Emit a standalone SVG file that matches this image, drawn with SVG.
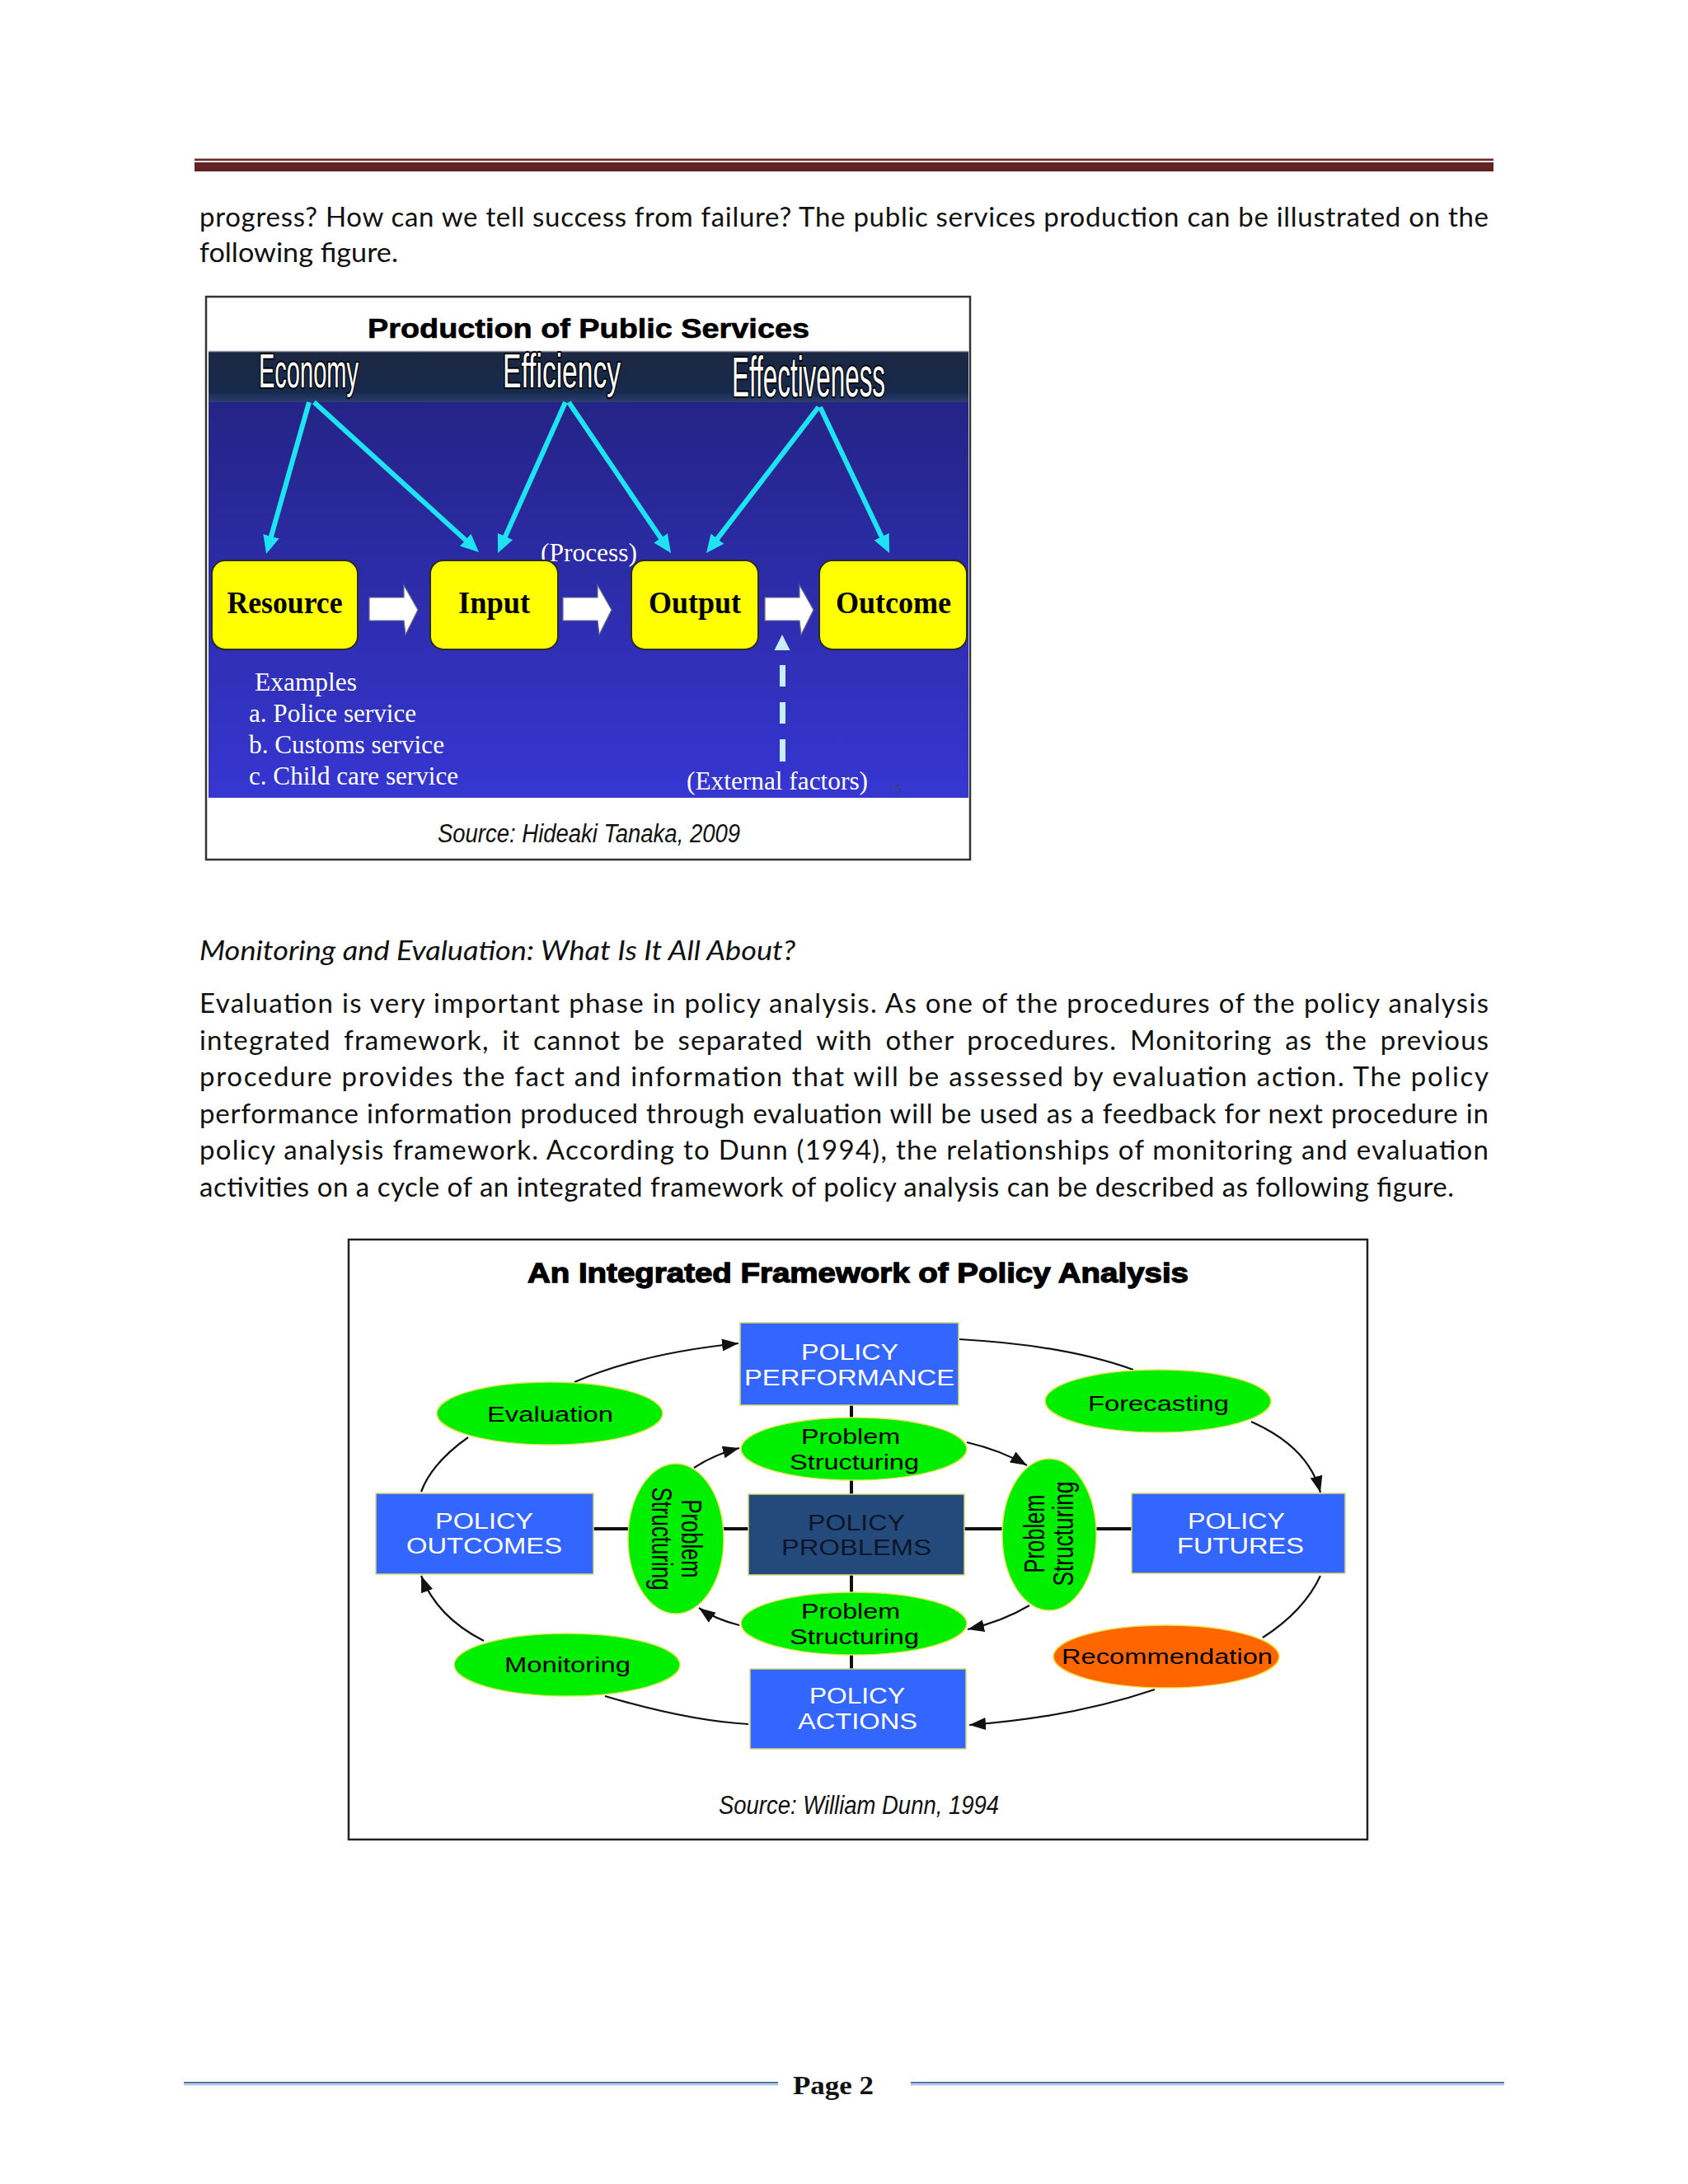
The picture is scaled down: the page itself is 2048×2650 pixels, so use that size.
<svg xmlns="http://www.w3.org/2000/svg" width="2048" height="2650" viewBox="0 0 2048 2650">
<defs>
<style>
.body{font-family:Lato,'Open Sans','Liberation Sans',sans-serif;font-size:33px;fill:#111}
.it{font-style:italic}
.sw{font-family:'Liberation Serif','Times New Roman',serif;font-size:32px;fill:#fff}
.ybox{fill:#ffff00;stroke:#2a2a2a;stroke-width:2}
.ylbl{font-family:'Liberation Serif','Times New Roman',serif;font-weight:bold;font-size:37px;fill:#000;text-anchor:middle}
.band{font-family:'Liberation Sans',Arial,sans-serif;fill:#fff;stroke:#000;stroke-width:4;paint-order:stroke;stroke-linejoin:round}
.cy{stroke:#1fe3f2;stroke-width:6;fill:none;marker-end:url(#cyh)}
.blk{fill:#fff;stroke:#6a6a8a;stroke-width:1.2}
.src{font-family:'Liberation Sans',Arial,sans-serif;font-style:italic;font-size:31px;fill:#111}
.f2b{fill:#3366ff;stroke:#d8dc70;stroke-width:1.5}
.f2d{fill:#244a7c;stroke:#d8dc70;stroke-width:1.5}
.gr{fill:#00ee00;stroke:#e4e45a;stroke-width:1.5}
.or{fill:#ff6600;stroke:#f2e04a;stroke-width:1.5}
.t2{font-family:'Liberation Sans',Arial,sans-serif;font-size:26px;text-anchor:middle;fill:#000}
.tb{font-size:27px}
.wt{fill:#fff}
.dk{fill:#0c1628}
.cv{fill:none;stroke:#111;stroke-width:2.2}
.ar{marker-end:url(#bh)}
.ln{stroke:#111;stroke-width:4}
</style>
<marker id="cyh" markerUnits="userSpaceOnUse" markerWidth="24" markerHeight="22" refX="14" refY="10" orient="auto">
<path d="M0,0 L22,10 L0,20 z" fill="#1fe3f2"/>
</marker>
<marker id="bh" markerUnits="userSpaceOnUse" markerWidth="22" markerHeight="16" refX="20" refY="7.5" orient="auto">
<path d="M0,0 L20,7.5 L0,15 z" fill="#111"/>
</marker>
<linearGradient id="bandg" x1="0" y1="0" x2="0" y2="1">
<stop offset="0" stop-color="#1c2742"/>
<stop offset="0.8" stop-color="#162a4c"/>
<stop offset="1" stop-color="#2c3f72"/>
</linearGradient>
<linearGradient id="panelg" x1="0" y1="0" x2="0" y2="1">
<stop offset="0" stop-color="#22217c"/>
<stop offset="1" stop-color="#3636d2"/>
</linearGradient>
</defs>

<rect x="0" y="0" width="2048" height="2650" fill="#ffffff"/>

<!-- header rule -->
<g id="header">
<rect x="236" y="192.5" width="1576" height="2.5" fill="#6a2a26"/>
<rect x="236" y="197" width="1576" height="11" fill="#622423"/>
</g>

<!-- paragraph 1 -->
<g id="para1" class="body">
<text x="242" y="275" textLength="1564" lengthAdjust="spacing">progress? How can we tell success from failure? The public services production can be illustrated on the</text>
<text x="242" y="318" textLength="241" lengthAdjust="spacingAndGlyphs">following figure.</text>
</g>

<!-- Figure 1 -->
<g id="figure1">
<rect x="250" y="360" width="927" height="683" fill="#fff" stroke="#333" stroke-width="2.5"/>
<text x="446" y="410" textLength="536" lengthAdjust="spacingAndGlyphs" font-family="'Liberation Sans',Arial,sans-serif" font-weight="bold" font-size="34" fill="#000" stroke="#000" stroke-width="0.7">Production of Public Services</text>
<rect x="253" y="426" width="922" height="542" fill="url(#panelg)"/>
<rect x="253" y="426" width="922" height="62" fill="url(#bandg)"/>
<line x1="253" y1="426.5" x2="1175" y2="426.5" stroke="#8a8fa0" stroke-width="1.5"/>

<g id="economy"><text class="band" x="314" y="470" font-size="57" textLength="121" lengthAdjust="spacingAndGlyphs">Economy</text></g>
<g id="efficiency"><text class="band" x="610" y="470" font-size="57" textLength="143" lengthAdjust="spacingAndGlyphs">Efficiency</text></g>
<g id="effectiveness"><text class="band" x="888" y="481" font-size="68" textLength="186" lengthAdjust="spacingAndGlyphs">Effectiveness</text></g>

<g id="fig1-connectors">
<line class="cy" x1="375" y1="488" x2="325.2" y2="664.3"/>
<line class="cy" x1="381" y1="488" x2="575.1" y2="664.6"/>
<line class="cy" x1="686" y1="488" x2="607.3" y2="663.7"/>
<line class="cy" x1="690" y1="488" x2="809.5" y2="664.4"/>
<line class="cy" x1="993" y1="494" x2="861.9" y2="664.7"/>
<line class="cy" x1="995" y1="494" x2="1075.6" y2="663.8"/>
<polygon class="blk" points="448,725 490,725 490,710 507,740 492,770 490,753 448,753"/>
<polygon class="blk" points="683,725 725,725 725,710 742,740 727,770 725,753 683,753"/>
<polygon class="blk" points="928,725 970,725 970,710 987,740 972,770 970,753 928,753"/>
<polygon points="949,770 939.5,789 958.5,789" fill="#c8eefc"/>
<rect x="946" y="807" width="7" height="26" fill="#c8eefc"/>
<rect x="946" y="852" width="7" height="26" fill="#c8eefc"/>
<rect x="946" y="897" width="7" height="27" fill="#c8eefc"/>
</g>

<text class="sw" x="656" y="681" textLength="117" lengthAdjust="spacingAndGlyphs">(Process)</text>

<g id="resource"><rect class="ybox" x="257" y="680" width="177" height="108" rx="16"/><text class="ylbl" x="345.5" y="744" textLength="140" lengthAdjust="spacingAndGlyphs">Resource</text></g>
<g id="input"><rect class="ybox" x="522" y="680" width="155" height="108" rx="16"/><text class="ylbl" x="599.5" y="744" textLength="87" lengthAdjust="spacingAndGlyphs">Input</text></g>
<g id="output"><rect class="ybox" x="766" y="680" width="154" height="108" rx="16"/><text class="ylbl" x="843" y="744" textLength="112" lengthAdjust="spacingAndGlyphs">Output</text></g>
<g id="outcome"><rect class="ybox" x="994" y="680" width="179" height="108" rx="16"/><text class="ylbl" x="1084" y="744" textLength="140" lengthAdjust="spacingAndGlyphs">Outcome</text></g>

<g id="examples">
<text class="sw" x="309" y="838" textLength="124" lengthAdjust="spacingAndGlyphs">Examples</text>
<text class="sw" x="302" y="876" textLength="203" lengthAdjust="spacingAndGlyphs">a. Police service</text>
<text class="sw" x="302" y="914" textLength="237" lengthAdjust="spacingAndGlyphs">b. Customs service</text>
<text class="sw" x="302" y="952" textLength="254" lengthAdjust="spacingAndGlyphs">c. Child care service</text>
</g>
<g id="external"><text class="sw" x="833" y="958" textLength="220" lengthAdjust="spacingAndGlyphs">(External factors)</text></g>
<text x="1086" y="962" font-family="'Liberation Serif',serif" font-size="15" fill="#3a3a5e">5</text>
<text class="src" x="531" y="1022" textLength="367" lengthAdjust="spacingAndGlyphs">Source: Hideaki Tanaka, 2009</text>
</g>

<!-- heading and paragraph 2 -->
<g id="para2" class="body">
<text class="it" x="242" y="1165" textLength="723" lengthAdjust="spacingAndGlyphs">Monitoring and Evaluation: What Is It All About?</text>
<text x="242" y="1229" textLength="1564" lengthAdjust="spacing">Evaluation is very important phase in policy analysis. As one of the procedures of the policy analysis</text>
<text x="242" y="1274" textLength="1564" lengthAdjust="spacing" word-spacing="6">integrated framework, it cannot be separated with other procedures. Monitoring as the previous</text>
<text x="242" y="1318" textLength="1564" lengthAdjust="spacing">procedure provides the fact and information that will be assessed by evaluation action. The policy</text>
<text x="242" y="1363" textLength="1564" lengthAdjust="spacing">performance information produced through evaluation will be used as a feedback for next procedure in</text>
<text x="242" y="1407" textLength="1564" lengthAdjust="spacing">policy analysis framework. According to Dunn (1994), the relationships of monitoring and evaluation</text>
<text x="242" y="1452" textLength="1522" lengthAdjust="spacing">activities on a cycle of an integrated framework of policy analysis can be described as following figure.</text>
</g>

<!-- Figure 2 -->
<g id="figure2">
<rect x="423" y="1504" width="1236" height="728" fill="#fff" stroke="#222" stroke-width="2.5"/>
<text x="640" y="1556" textLength="802" lengthAdjust="spacingAndGlyphs" font-family="'Liberation Sans',Arial,sans-serif" font-weight="bold" font-size="34" fill="#000" stroke="#000" stroke-width="1.3">An Integrated Framework of Policy Analysis</text>

<g id="fig2-connectors">
<line class="ln" x1="1033" y1="1705" x2="1033" y2="2025"/>
<line class="ln" x1="720" y1="1855" x2="1373" y2="1855"/>
<path class="cv ar" d="M697,1677 Q778,1642 896,1630"/>
<path class="cv" d="M1164,1625 Q1292,1632 1375,1662"/>
<path class="cv ar" d="M1518,1725 Q1588,1756 1602,1811"/>
<path class="cv" d="M1602,1912 Q1582,1955 1532,1987"/>
<path class="cv ar" d="M1401,2050 Q1300,2084 1176,2093"/>
<path class="cv" d="M908,2092 Q835,2088 734,2058"/>
<path class="cv ar" d="M587,1991 Q530,1962 511,1912"/>
<path class="cv" d="M511,1810 Q524,1775 568,1744"/>
<path class="cv ar" d="M842,1781 Q866,1765 897,1757"/>
<path class="cv ar" d="M1173,1750 Q1215,1760 1246,1778"/>
<path class="cv ar" d="M1249,1948 Q1215,1968 1174,1977"/>
<path class="cv ar" d="M897,1972 Q866,1964 848,1951"/>
</g>

<g id="policy-performance"><rect class="f2b" x="898" y="1605" width="265" height="100"/>
<text class="t2 tb wt" x="1031" y="1650" textLength="118" lengthAdjust="spacingAndGlyphs">POLICY</text>
<text class="t2 tb wt" x="1030.5" y="1681" textLength="255" lengthAdjust="spacingAndGlyphs">PERFORMANCE</text></g>

<g id="ps-top"><ellipse class="gr" cx="1036" cy="1758" rx="137" ry="38"/>
<text class="t2" x="1032" y="1752" textLength="120" lengthAdjust="spacingAndGlyphs">Problem</text>
<text class="t2" x="1036.5" y="1783" textLength="157" lengthAdjust="spacingAndGlyphs">Structuring</text></g>

<g id="policy-problems"><rect class="f2d" x="908" y="1813" width="262" height="98"/>
<text class="t2 tb dk" x="1039" y="1857" textLength="118" lengthAdjust="spacingAndGlyphs">POLICY</text>
<text class="t2 tb dk" x="1039" y="1887" textLength="182" lengthAdjust="spacingAndGlyphs">PROBLEMS</text></g>

<g id="ps-bottom"><ellipse class="gr" cx="1036" cy="1970" rx="137" ry="38"/>
<text class="t2" x="1032" y="1964" textLength="120" lengthAdjust="spacingAndGlyphs">Problem</text>
<text class="t2" x="1036.5" y="1995" textLength="157" lengthAdjust="spacingAndGlyphs">Structuring</text></g>

<g id="policy-actions"><rect class="f2b" x="910" y="2025" width="262" height="97"/>
<text class="t2 tb wt" x="1040" y="2067" textLength="116" lengthAdjust="spacingAndGlyphs">POLICY</text>
<text class="t2 tb wt" x="1040.5" y="2098" textLength="145" lengthAdjust="spacingAndGlyphs">ACTIONS</text></g>

<g id="policy-outcomes"><rect class="f2b" x="456" y="1812" width="264" height="98"/>
<text class="t2 tb wt" x="587.5" y="1855" textLength="119" lengthAdjust="spacingAndGlyphs">POLICY</text>
<text class="t2 tb wt" x="587.5" y="1885" textLength="189" lengthAdjust="spacingAndGlyphs">OUTCOMES</text></g>

<g id="policy-futures"><rect class="f2b" x="1373" y="1812" width="259" height="97"/>
<text class="t2 tb wt" x="1500" y="1855" textLength="118" lengthAdjust="spacingAndGlyphs">POLICY</text>
<text class="t2 tb wt" x="1505" y="1885" textLength="154" lengthAdjust="spacingAndGlyphs">FUTURES</text></g>

<g id="ps-left"><ellipse class="gr" cx="820" cy="1867" rx="58" ry="91"/>
<text class="t2" transform="translate(827,1867) scale(1.35,1) rotate(90)" x="0" y="0" textLength="95" lengthAdjust="spacingAndGlyphs">Problem</text>
<text class="t2" transform="translate(791,1867) scale(1.35,1) rotate(90)" x="0" y="0" textLength="125" lengthAdjust="spacingAndGlyphs">Structuring</text></g>

<g id="ps-right"><ellipse class="gr" cx="1273" cy="1862" rx="57" ry="92"/>
<text class="t2" transform="translate(1267,1861) scale(1.35,1) rotate(-90)" x="0" y="0" textLength="95" lengthAdjust="spacingAndGlyphs">Problem</text>
<text class="t2" transform="translate(1302,1861) scale(1.35,1) rotate(-90)" x="0" y="0" textLength="127" lengthAdjust="spacingAndGlyphs">Structuring</text></g>

<g id="evaluation"><ellipse class="gr" cx="667" cy="1715" rx="137" ry="38"/>
<text class="t2" x="667.5" y="1725" textLength="153" lengthAdjust="spacingAndGlyphs">Evaluation</text></g>

<g id="forecasting"><ellipse class="gr" cx="1405" cy="1700" rx="137" ry="38"/>
<text class="t2" x="1405.5" y="1712" textLength="171" lengthAdjust="spacingAndGlyphs">Forecasting</text></g>

<g id="monitoring"><ellipse class="gr" cx="688" cy="2020" rx="137" ry="38"/>
<text class="t2" x="688.5" y="2029" textLength="153" lengthAdjust="spacingAndGlyphs">Monitoring</text></g>

<g id="recommendation"><ellipse class="or" cx="1415" cy="2010" rx="137" ry="38"/>
<text class="t2" x="1416" y="2019" textLength="256" lengthAdjust="spacingAndGlyphs">Recommendation</text></g>

<text class="src" x="872" y="2201" textLength="340" lengthAdjust="spacingAndGlyphs">Source: William Dunn, 1994</text>
</g>

<!-- footer -->
<g id="footer">
<line x1="223" y1="2527" x2="944" y2="2527" stroke="#4a72a8" stroke-width="2"/>
<line x1="223" y1="2529.5" x2="944" y2="2529.5" stroke="#9ab4d6" stroke-width="1.5"/>
<line x1="1105" y1="2527" x2="1825" y2="2527" stroke="#4a72a8" stroke-width="2"/>
<line x1="1105" y1="2529.5" x2="1825" y2="2529.5" stroke="#9ab4d6" stroke-width="1.5"/>
<text x="962" y="2541" font-family="'Liberation Serif','Times New Roman',serif" font-weight="bold" font-size="32" fill="#111" textLength="98" lengthAdjust="spacingAndGlyphs">Page 2</text>
</g>
</svg>
